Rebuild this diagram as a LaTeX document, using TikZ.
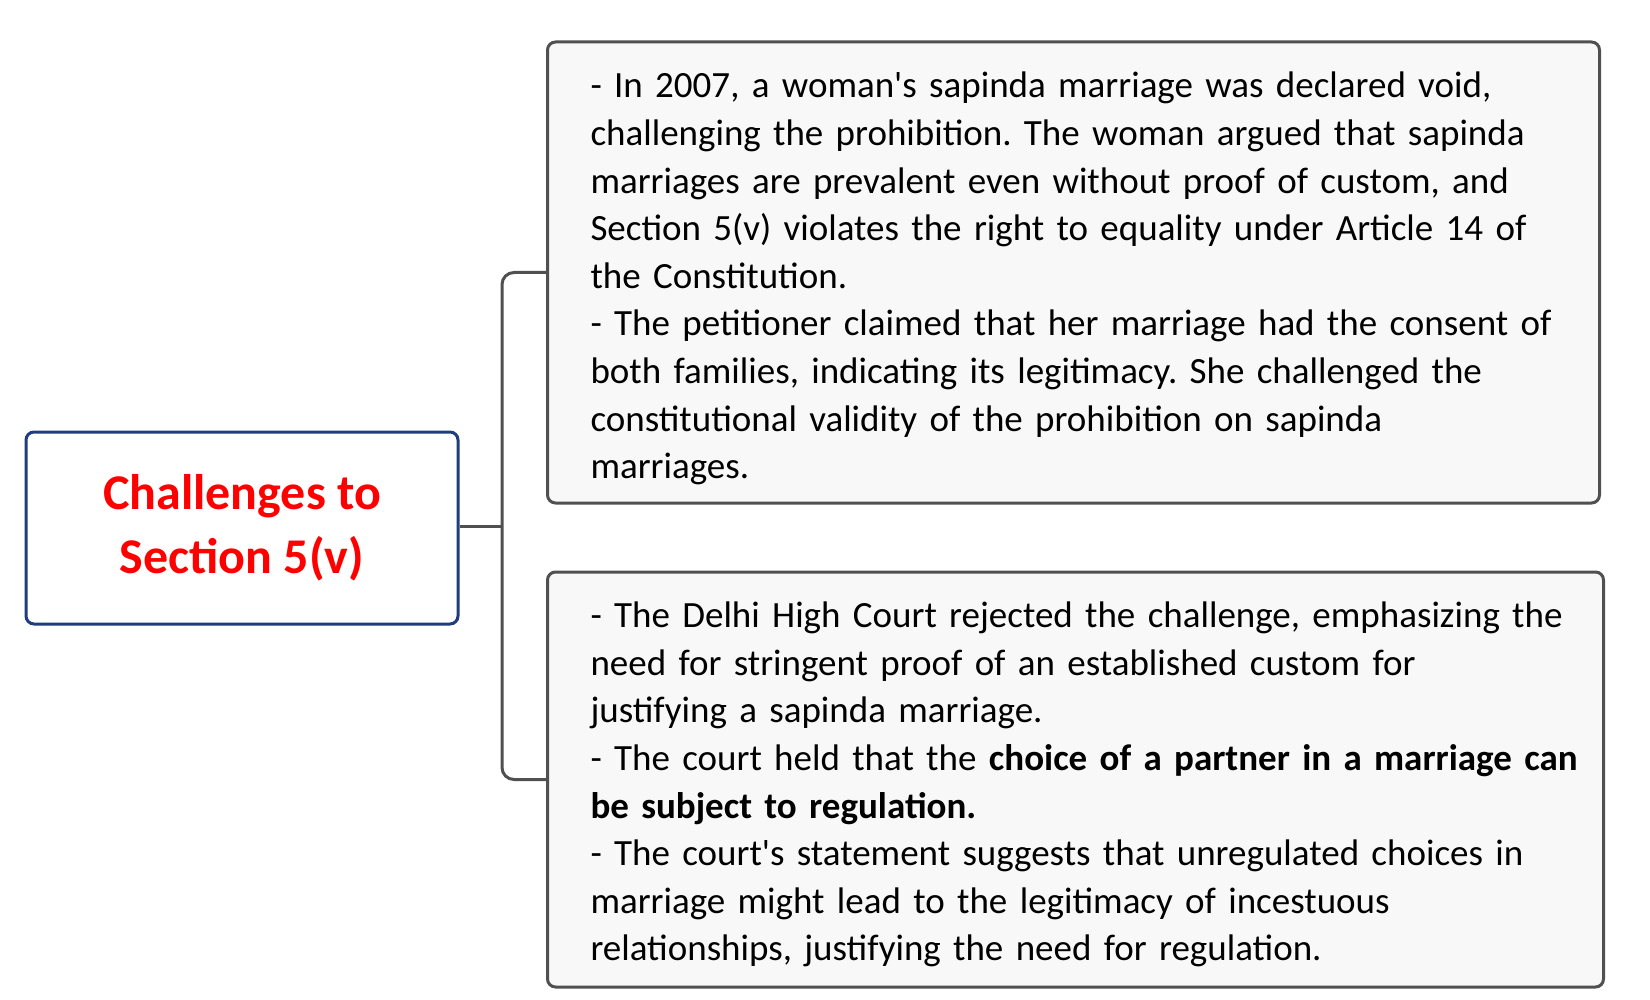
\documentclass[tikz,border=0pt]{standalone}
\usepackage{fontspec}
\setmainfont{Carlito}[Ligatures=TeXOff]
\frenchspacing
\definecolor{navy}{HTML}{1F3C7C}
\definecolor{boxline}{HTML}{505050}
\definecolor{boxfill}{HTML}{F8F8F8}
\definecolor{titlered}{HTML}{FF0000}
\newcommand\boxtext{\raggedright\leftskip=11.5pt\relax}
\tikzset{
  px/.style={x=0.5pt,y=-0.5pt},
  mainbox/.style={draw=navy, line width=1.5pt, rounded corners=4pt, fill=white,
    minimum width=216pt, minimum height=96pt, align=center, text=titlered,
    font=\fontsize{25pt}{32pt}\selectfont\bfseries},
  infobox/.style={draw=boxline, line width=1.5pt, rounded corners=4pt, fill=boxfill,
    inner xsep=10pt, inner ysep=0pt, anchor=west,
    font=\fontsize{18.5pt}{23.8pt}\selectfont},
  link/.style={draw=boxline, line width=1.5pt}
}
\begin{document}
\begin{tikzpicture}[px]
\useasboundingbox (0,0) rectangle (1650,1000);
\node[mainbox] (main) at (242,528) {Challenges to\\Section 5(v)};
\node[infobox, text width=506pt, minimum height=230.5pt] (top) at (546,272.5) {\boxtext\rule{0pt}{19pt}%
- In 2007, a woman's sapinda marriage was declared void,\\
challenging the prohibition. The woman argued that sapinda\\
marriages are prevalent even without proof of custom, and\\
Section 5(v) violates the right to equality under Article 14 of\\
the Constitution.\\
- The petitioner claimed that her marriage had the consent of\\
both families, indicating its legitimacy. She challenged the\\
constitutional validity of the prohibition on sapinda\\
marriages.\par};
\node[infobox, text width=508pt, minimum height=207.5pt] (bot) at (546,779.5) {\boxtext\rule{0pt}{18pt}%
- The Delhi High Court rejected the challenge, emphasizing the\\
need for stringent proof of an established custom for\\
justifying a sapinda marriage.\\
- The court held that the \textbf{choice of a partner in a marriage can}\\
\textbf{be subject to regulation.}\\
- The court's statement suggests that unregulated choices in\\
marriage might lead to the legitimacy of incestuous\\
relationships, justifying the need for regulation.\par};
\coordinate (jn) at (502,526);
\draw[link] (main.east |- jn) -- (jn);
\draw[link, rounded corners=6pt] (top.west) -| (jn) |- (bot.west);
\end{tikzpicture}
\end{document}
